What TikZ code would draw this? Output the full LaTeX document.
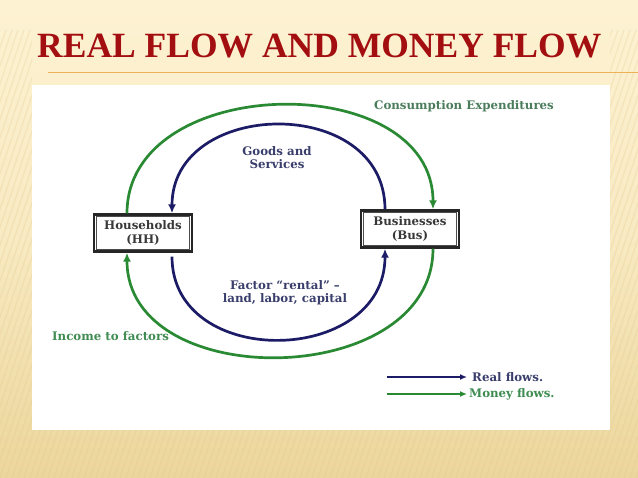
\documentclass[tikz,border=0pt]{standalone}
\usepackage{fontspec}
\setmainfont{Liberation Serif}
\newfontfamily\labelfont{DejaVu Serif}
\usetikzlibrary{arrows.meta}

\definecolor{bgtop}{HTML}{FDF2D2}
\definecolor{bgbot}{HTML}{ECD69C}
\definecolor{titlered}{HTML}{A30F10}
\definecolor{rulegold}{HTML}{EDB15A}
\definecolor{realblue}{HTML}{1C1C66}
\definecolor{moneygreen}{HTML}{2A8A34}
\definecolor{bluetext}{HTML}{3A3E6C}
\definecolor{greentext}{HTML}{4B7D5C}
\definecolor{incometext}{HTML}{3F8C52}

\begin{document}
\begin{tikzpicture} [x=1pt,y=-1pt,
	sector/.style={
		rectangle,draw=black!85,fill=white,line width=2.4pt,
		minimum width=98pt,minimum height=37pt,inner sep=1pt,
		align=center,text=black!78,
		font=\labelfont\bfseries\fontsize{11.8}{14}\selectfont},
	inner frame/.style={
		draw=black!70,line width=0.8pt},
	flowtext/.style={
		align=center,inner sep=1pt,
		font=\labelfont\bfseries\fontsize{11.8}{13}\selectfont},
	real/.style={
		draw=realblue,line width=2.7pt,
		-{Latex[length=9pt,width=8pt]}},
	money/.style={
		draw=moneygreen,line width=2.7pt,
		-{Latex[length=9pt,width=8pt]}},
	keyline/.style={
		line width=2pt,-{Latex[length=7pt,width=6pt]}}]
\useasboundingbox (0,0) rectangle (638,478);
% slide background
\shade[top color=bgtop,bottom color=bgbot,middle color=bgtop!70!bgbot] (0,0) rectangle (638,478);
\begin{scope}
\clip (0,30) rectangle (32,478) (610,30) rectangle (638,478) (0,430) rectangle (638,478);
\foreach \s in {-480,-474,...,640}
	\draw[bgbot!80!brown,opacity=0.25,line width=1.2pt] (\s,478) -- (\s+160,0);
\end{scope}
\node[anchor=base west,inner sep=0pt,text=titlered,
	font=\bfseries\fontsize{35.5}{40}\selectfont] (title) at (37,58) {REAL FLOW AND MONEY FLOW};
\coordinate (rule start) at (48,73);
\coordinate (rule end) at (638,73);
\draw[rulegold,line width=1pt] (rule start) -- (rule end);
\fill[white] (32,85) rectangle (610,430);
% sectors
\node[sector] (households) at (143,233) {Households\\(HH)};
\node[sector] (businesses) at (410,229) {Businesses\\(Bus)};
\draw[inner frame] ([shift={(3.5pt,-3.5pt)}]households.north west) rectangle ([shift={(-3.5pt,3.5pt)}]households.south east);
\draw[inner frame] ([shift={(3.5pt,-3.5pt)}]businesses.north west) rectangle ([shift={(-3.5pt,3.5pt)}]businesses.south east);
% flows
\draw[money] ([xshift=-16pt]households.north) to[out=90,in=90,looseness=1.18] ([xshift=23pt]businesses.north);
\draw[real] ([xshift=-25pt]businesses.north) to[out=90,in=90,looseness=1.38] ([xshift=29pt]households.north);
\draw[real,shorten <=4pt] ([xshift=29pt]households.south) to[out=-90,in=-90,looseness=1.41] ([xshift=-25pt]businesses.south);
\draw[money] ([xshift=23pt]businesses.south) to[out=-90,in=-90,looseness=1.18] ([xshift=-16pt]households.south);
% labels
\node[flowtext,text=greentext] (consumption) at (464,106) {Consumption Expenditures};
\node[flowtext,text=bluetext] (goods) at (277,158) {Goods and\\Services};
\node[flowtext,text=bluetext] (factor) at (285,293) {Factor “rental” –\\land, labor, capital};
\node[flowtext,text=incometext,anchor=west] (income) at (51,336) {Income to factors};
% key
\node[flowtext,text=bluetext,anchor=west] (real key) at (471,377) {Real flows.};
\node[flowtext,text=incometext,anchor=west] (money key) at (468,394) {Money flows.};
\coordinate (real tail) at (387,377);
\coordinate (money tail) at (387,394);
\draw[keyline,realblue] (real tail) -- ([xshift=-4pt]real key.west);
\draw[keyline,moneygreen] (money tail) -- ([xshift=-1pt]money key.west);
\end{tikzpicture}
\end{document}
